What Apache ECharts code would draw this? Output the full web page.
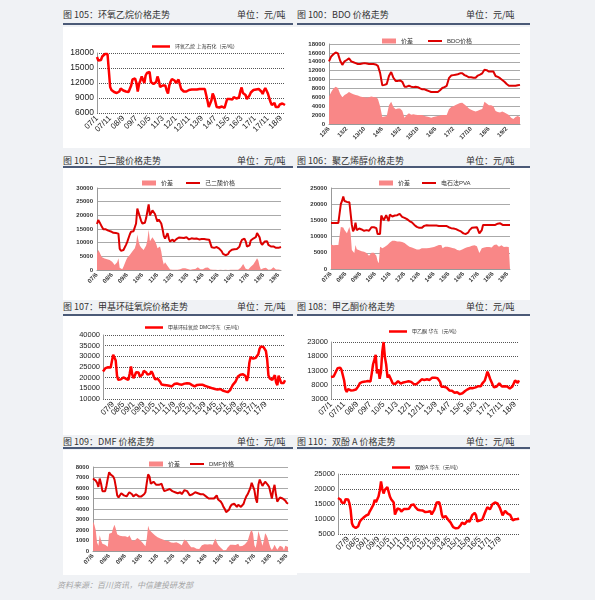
<!DOCTYPE html>
<html>
<head>
<meta charset="utf-8">
<script src="https://cdn.jsdelivr.net/npm/echarts@6/dist/echarts.min.js"></script>
<style>
  body { margin: 0; width: 595px; height: 600px; position: relative; overflow: hidden; background: #f0f2f5; font-family: "Noto Sans CJK SC", sans-serif; }
  .title { position: absolute; font-size: 9px; line-height: 12px; color: #333; white-space: nowrap; }
  .rule { position: absolute; height: 1.5px; background: #4b5a77; }
  .panel { position: absolute; background: #fff; }
  .source { position: absolute; left: 57px; top: 579px; font-size: 8px; line-height: 12px; color: #a5a5a5; font-style: italic; }
</style>
</head>
<body>

<div class="title" style="left:63px;top:9px">图 105：环氧乙烷价格走势</div>
<div class="title" style="left:237px;top:9px">单位：元/吨</div>
<div class="rule" style="left:63px;top:23px;width:230px"></div>
<div class="title" style="left:297px;top:9px">图 100：BDO 价格走势</div>
<div class="title" style="left:466px;top:9px">单位：元/吨</div>
<div class="rule" style="left:297px;top:23px;width:233px"></div>

<div class="title" style="left:63px;top:155px">图 101：己二酸价格走势</div>
<div class="title" style="left:237px;top:155px">单位：元/吨</div>
<div class="rule" style="left:63px;top:166px;width:230px"></div>
<div class="title" style="left:297px;top:155px">图 106：聚乙烯醇价格走势</div>
<div class="title" style="left:466px;top:155px">单位：元/吨</div>
<div class="rule" style="left:297px;top:166px;width:233px"></div>

<div class="title" style="left:63px;top:301px">图 107：甲基环硅氧烷价格走势</div>
<div class="title" style="left:237px;top:301px">单位：元/吨</div>
<div class="rule" style="left:63px;top:314px;width:230px"></div>
<div class="title" style="left:297px;top:301px">图 108：甲乙酮价格走势</div>
<div class="title" style="left:466px;top:301px">单位：元/吨</div>
<div class="rule" style="left:297px;top:314px;width:233px"></div>

<div class="title" style="left:63px;top:436px">图 109：DMF 价格走势</div>
<div class="title" style="left:237px;top:436px">单位：元/吨</div>
<div class="rule" style="left:63px;top:447px;width:230px"></div>
<div class="title" style="left:297px;top:436px">图 110：双酚 A 价格走势</div>
<div class="title" style="left:466px;top:436px">单位：元/吨</div>
<div class="rule" style="left:297px;top:447px;width:233px"></div>

<div class="panel" id="c1" style="left:63px;top:27px;width:234px;height:121px"></div>
<div class="panel" id="c2" style="left:297px;top:27px;width:233px;height:121px"></div>
<div class="panel" id="c3" style="left:63px;top:168px;width:234px;height:132px"></div>
<div class="panel" id="c4" style="left:297px;top:168px;width:233px;height:132px"></div>
<div class="panel" id="c5" style="left:63px;top:316px;width:234px;height:119px"></div>
<div class="panel" id="c6" style="left:297px;top:316px;width:233px;height:119px"></div>
<div class="panel" id="c7" style="left:63px;top:450px;width:234px;height:125px"></div>
<div class="panel" id="c8" style="left:297px;top:450px;width:233px;height:123px"></div>

<div class="source">资料来源：百川资讯，中信建投研发部</div>

<script>
// month labels like "07/1"
function monthLabels(y, m, n) {
    const out = []
    for (let i = 0; i < n; i++) {
        out.push(String(y % 100).padStart(2, "0") + "/" + m)
        m++
        if (m > 12) { m = 1; y++ }
    }
    return out
}

// ---- 图105 环氧乙烷 ----
const eoCats = monthLabels(2007, 1, 144)
const eoTicks = ["07/1","07/11","08/9","09/7","10/5","11/3","12/1","12/11","13/9","14/7","15/5","16/3","17/1","17/11","18/9"]
const eoPrice = [
    17200,16500,16400,16600,17300,17600,17800,17900,17800,14500,
    11200,10600,10400,10200,10600,10000,9800,10300,10900,10700,
    10500,10500,10300,10300,10200,10300,11500,12700,13000,12900,
    12000,10300,11800,12500,13300,13600,12000,13500,14000,14200,
    14200,12200,11900,11800,11900,12200,13300,12500,11200,11300,
    11500,11800,11500,10500,9900,11500,12300,12800,13000,12500,
    12000,12000,12700,12300,10800,10600,10300,10000,10300,10500,
    10600,10600,10700,10700,10700,10700,10700,10800,10800,10800,
    10800,10800,10800,10700,8500,7200,7000,8500,9900,9300,
    8300,7200,6900,7100,7200,7300,7100,7000,7300,8800,
    9100,8800,9000,8700,9200,9100,8900,8800,9100,10300,
    11100,10000,9800,9600,8800,9100,9500,10100,10300,10600,
    10700,10700,10800,10800,10600,10300,9800,10500,11000,10700,
    9900,9000,8200,7600,8000,8000,7200,6900,7200,7700,
    7900,7900,7500,7600
]

// ---- 图100 BDO ----
const bdoCats = monthLabels(2012, 6, 87)
const bdoTicks = ["12/6","13/2","13/10","14/6","15/2","15/10","16/6","17/2","17/10","18/6","19/2"]
const bdoPrice = [
    14100,15200,15700,16100,15900,14300,13300,14100,14400,14800,
    14100,13900,13700,13500,13500,13600,13700,13600,13500,13500,
    13500,13400,13100,11500,8700,8800,9000,10800,11700,10400,
    9700,9700,9800,9500,8400,8400,8600,8400,8300,8400,
    8300,8000,7800,7800,7600,7400,7200,7200,7200,7200,
    7600,8100,8300,8600,10300,10900,11000,11100,11200,11400,
    11400,11000,10800,10500,10500,10400,10400,10900,11100,11400,
    12200,12100,11800,11800,11800,10800,10600,10300,9900,9500,
    9000,8600,8600,8600,8600,8700,8800
]
const bdoSpread = [
    6200,7200,8000,8400,8100,6800,6000,6500,6800,7200,
    6900,6700,6500,6400,6200,6100,6000,5900,6000,6200,
    6100,6000,5700,4000,1600,1700,1800,4200,5000,3800,
    3300,3500,3500,3000,1400,2000,2400,2100,2200,2100,
    2000,2000,2000,1800,1700,1600,1400,1600,1700,1800,
    1900,2000,2000,2000,3300,3800,4000,4300,4500,4700,
    4800,4400,4000,3500,3200,3000,2800,3000,3200,3400,
    5000,4600,4200,4200,4000,2900,2700,2600,2800,2600,
    2300,2000,1400,1100,1600,1800,1500
]

// ---- 图101 己二酸 ----
const adaCats = monthLabels(2007, 6, 147)
const yearTicks = ["07/6","08/6","09/6","10/6","11/6","12/6","13/6","14/6","15/6","16/6","17/6","18/6","19/6"]
const adaPrice = [
    16800,18300,17500,16800,15700,14900,14700,14900,14700,14400,
    14200,14100,14100,13600,13500,13500,13500,13300,7800,7000,
    7100,7300,8000,9200,10300,11000,13000,14000,14200,14200,
    14000,17000,22500,22000,19500,18000,17000,16300,17300,19000,
    21500,24000,20000,20500,21800,21800,20500,19000,17700,18500,
    18800,17000,15000,12500,11500,11200,13500,11500,10400,10700,
    11200,10400,11000,11300,11500,11900,12000,11800,11600,11700,
    11600,12000,11800,11200,11300,11600,11800,11400,11300,11500,
    11400,11200,11500,11300,11200,11300,11200,11200,11300,11100,
    10500,8300,8200,8100,8200,8400,8000,7800,7200,6800,
    5900,5500,5400,5200,5800,6700,7300,7400,7400,7600,
    7500,7700,7900,8500,10000,11000,11700,11500,10500,8600,
    8600,9000,10800,11000,11500,10800,12000,13500,14000,12000,
    10000,9200,9500,10400,10800,10500,9200,8600,8600,9000,
    8600,8000,8100,8000,8100,8300,8400
]
const adaSpread = [
    6000,7300,6500,5500,4700,4300,4200,4000,3900,3800,
    3700,3500,3000,2400,1800,2000,2800,4300,800,200,
    300,1200,1800,3500,4500,5000,5500,6200,6800,7000,
    8000,9500,13000,10500,9000,8200,7500,7300,7800,9000,
    11000,14700,10500,11000,12000,12000,10500,9500,8000,7300,
    8600,6800,3800,2000,2800,2600,1500,800,200,100,
    100,0,100,200,100,200,300,500,600,500,
    600,500,400,200,100,200,300,200,400,700,
    1000,600,300,200,300,500,800,1200,900,400,
    200,100,100,0,100,100,0,0,100,0,
    0,0,100,100,0,0,100,0,100,200,
    100,200,100,300,800,1200,2200,1500,500,100,
    200,800,1200,1500,2000,2400,3500,4300,3500,1500,
    200,100,600,1000,800,300,100,100,200,600,
    1000,500,200,300,200,100,0
]

// ---- 图106 聚乙烯醇 ----
const pvaCats = monthLabels(2007, 6, 147)
const pvaPrice = [
    14200,14200,14200,14200,14200,14200,14200,14200,20000,21000,
    22400,21000,20800,20700,20700,20600,20600,13600,11600,12400,
    14300,12000,12300,12500,12000,12200,12000,11800,12000,12000,
    11900,11800,11700,12900,12900,12900,12900,12600,10800,10800,
    10800,16500,16400,15000,14600,16600,16600,14800,16800,16800,
    16200,15600,16500,16600,16600,16800,17000,16600,16100,16000,
    15800,15600,15400,15100,14800,14600,14400,14100,13600,13300,
    13000,12900,12700,12500,12700,13100,13300,13300,13500,13500,
    13400,13400,13400,13400,13400,13400,13400,13300,13300,13300,
    13300,13300,13300,13300,13300,13300,12900,12700,12600,12500,
    12500,12400,12300,12100,11900,11800,11600,11300,11000,10900,
    10800,10900,11300,12000,12500,12700,12800,12800,12900,12900,
    13000,11000,11000,12000,13600,13600,13600,13600,13600,13600,
    13600,13600,13600,13600,13600,13800,14000,14100,14100,13800,
    13600,13600,13600,13600,13600,13600,13600
]
const pvaSpread = [
    7600,7400,7300,7300,7400,7300,7400,7600,13000,12500,
    12800,12000,11500,11000,12000,13000,11000,5900,6400,4900,
    7400,6100,6000,5800,5700,5500,5400,5300,5100,4900,
    4600,4100,4300,5000,5400,5000,4600,4100,2500,1800,
    6900,6600,6400,6600,6900,7200,7400,7800,8200,8500,
    8700,8800,8700,8500,8500,8500,8500,8400,8300,8200,
    8000,7700,7400,7200,6900,6800,6600,6400,6300,6100,
    6000,5900,6000,6200,6400,6400,6400,6400,6400,6400,
    6500,6500,6600,6700,6800,6900,7100,7300,7400,7400,
    7400,6400,6800,6900,6900,6900,6800,6700,6600,6500,
    6400,6300,6100,5900,5800,5700,5800,6000,6100,6400,
    6600,6700,6800,6900,7000,7200,7400,7300,6900,7000,
    7200,4900,5500,6400,6500,6600,6700,6800,6900,6800,
    6700,6600,7000,7400,7500,7600,7300,6900,7000,7300,
    7100,6800,6700,6900,7200,6800,7000
]

// ---- 图107 甲基环硅氧烷 ----
const dmcCats = monthLabels(2007, 1, 144)
const eightTicks = ["07/1","07/9","08/5","09/1","09/9","10/5","11/1","11/9","12/5","13/1","13/9","14/5","15/1","15/9","16/5","17/1","17/9","18/5"]
const dmcPrice = [
    22900,23500,24500,24900,24900,24900,24700,25200,30800,31100,
    28000,21000,19000,19000,19200,19800,20100,19800,19500,19300,
    19000,22000,25200,21500,19800,21000,22500,22900,22400,20500,
    19800,21500,23200,23700,22400,21400,20600,21800,23000,22000,
    20300,19200,19000,19500,18800,18000,16800,16600,16600,16500,
    16400,16300,16200,16000,15900,16400,17000,17500,17300,17000,
    16900,16800,16700,16900,17200,17300,17400,17500,17300,16900,
    16500,16200,15900,16200,16600,16700,16700,16700,16700,16500,
    16200,16000,15800,15600,15400,15200,15000,14800,14700,14600,
    14400,14500,14700,14300,14000,13800,13600,13300,13200,13500,
    14200,15500,16600,17200,18000,19300,20500,21400,21400,21000,
    21600,22000,20800,18500,20800,27000,29700,29900,28900,28800,
    29300,29900,31000,33500,34600,34600,34400,33800,32500,28500,
    21000,19700,19200,19000,19800,21200,17800,16500,20900,20800,
    17500,17300,17500,18800
]

// ---- 图108 甲乙酮 ----
const mekCats = monthLabels(2007, 1, 144)
const mekPrice = [
    10700,10800,10900,11500,12800,13800,14200,14000,13200,12600,
    9500,6400,5500,6500,6200,6000,6300,6100,6100,6300,
    6900,7600,8600,9100,9000,9500,9100,9000,9300,9800,
    9100,12000,15200,16800,18500,12000,13500,10100,12500,19500,
    23000,17700,15000,10500,11500,11000,9500,8400,8100,8300,
    8900,9300,9500,8400,8300,8800,9300,9000,9100,9200,
    9100,9000,8600,8200,8100,8200,8400,9000,9500,9900,
    10500,9700,9600,9900,10100,9700,9700,10500,10700,10500,
    10500,10300,9900,9000,7300,7000,7300,7300,7000,6700,
    6000,5800,5900,5500,5200,5300,5400,4900,4700,4900,
    5000,4800,5800,6000,6400,6800,6900,6700,6800,7100,
    7100,7800,7500,7200,7500,8400,8900,9500,11000,12600,
    11500,10100,9500,8000,7100,7000,7400,8000,8500,9000,
    7400,7100,7500,7700,7400,7100,6700,6400,7400,7000,
    9500,9000,8700,9500
]

// ---- 图109 DMF ----
const dmfCats = monthLabels(2007, 6, 146)
const dmfPrice = [
    6900,6800,6700,6500,6100,6900,6400,5700,5800,5700,
    6200,6900,7500,7300,7300,7100,6800,6100,5300,5100,
    5100,5500,5400,5300,5200,5200,5300,5600,5700,5400,
    5200,5300,5400,5300,5200,5200,5200,5200,5400,5600,
    6500,7300,7100,6400,6400,6600,6700,6300,6200,6300,
    6400,6400,6000,5700,5800,5800,5700,5900,5800,5700,
    5700,5600,5700,5500,5600,5600,5400,5300,5800,5900,
    5700,5500,5300,5200,5400,5500,5600,5500,5500,5400,
    5400,5400,5400,5300,5200,5200,5000,4900,5000,4900,
    5000,5000,5300,4900,4900,4700,4500,4200,4000,3700,
    3700,3900,4200,4400,4500,4500,4500,4200,4400,4300,
    4200,4200,4500,4900,5200,5400,5500,6000,6500,6400,
    5800,5000,4600,6300,6800,6700,6200,6400,6600,6500,
    6300,6100,6000,5000,5800,6300,5400,4700,4900,5100,
    5100,5000,4900,4800,4600,4500
]
const dmfSpread = [
    2800,2500,2000,800,500,1500,1000,700,850,600,
    450,400,1650,1700,1750,2200,2500,2100,1600,1450,
    1450,1500,1400,1400,1400,1350,1300,1500,1400,1000,
    900,1000,1100,1250,1200,1050,950,770,600,450,
    1200,2400,2000,1850,1750,1650,1500,1400,1300,1250,
    1200,1150,1100,1000,980,980,950,860,820,780,
    780,800,830,780,720,650,540,540,1100,1100,
    900,700,540,350,350,350,300,220,100,200,
    380,540,700,650,600,620,640,640,560,600,
    900,1200,860,600,450,300,200,60,80,100,
    300,450,600,680,600,550,580,600,680,450,
    400,480,540,650,780,950,1100,1800,2000,1660,
    540,300,1000,1900,1900,1000,500,1000,1700,1500,
    1200,700,300,100,300,600,500,130,300,500,
    450,380,60,500,450,380
]

// ---- 图110 双酚A ----
const bpaCats = monthLabels(2007, 1, 144)
const bpaPrice = [
    17000,17300,16500,15500,15100,15300,16600,16900,16500,15300,
    13000,8600,7600,7300,7000,7100,7600,8900,9600,10000,
    10400,10900,11100,11100,11500,12500,13200,13500,14800,16400,
    15600,16000,17500,19500,22500,20000,18500,19700,20300,20600,
    20200,17500,16600,16400,15500,11500,12500,13500,13500,13200,
    12500,12800,13300,13500,13300,13100,13400,14000,14700,15200,
    14800,14000,13500,13100,12500,12900,13000,12800,12400,12300,
    12500,12400,12600,12600,11500,11200,13000,14200,15500,15800,
    15600,14000,11500,10400,10900,11000,10600,9800,9300,8800,
    8000,7300,7000,6900,6900,7000,7300,8000,8800,9200,
    8300,8800,9300,9500,9200,10200,11300,11700,12000,11300,
    9200,9600,9500,10000,9800,10000,12000,13000,13900,14200,
    13200,14000,14900,15300,15500,15400,15200,14800,13600,12500,
    11200,11800,12700,12300,11800,11400,11400,10800,9600,9500,
    9900,9600,10000,10200
]

const FONT = '"Liberation Sans", "Noto Sans CJK SC", sans-serif'
const plain = function (v) { return String(v) }

// single red line, dotted grid
function lineChart(id, c) {
    const myChart = echarts.init(document.getElementById(id))
    const option = {
        animation: false,
        textStyle: { fontFamily: FONT },
        legend: {
            left: c.legendLeft, top: c.legendTop,
            itemWidth: 18, itemHeight: 6,
            textStyle: { fontSize: 5, color: '#333', fontFamily: FONT },
            data: [{ name: c.name, icon: 'path://M0,0 L18,0 L18,2.5 L0,2.5 Z' }]
        },
        grid: c.grid,
        xAxis: {
            type: 'category', data: c.cats, boundaryGap: false,
            axisLine: { show: false }, axisTick: { show: false },
            axisLabel: {
                interval: function (i, v) { return c.ticks.indexOf(v) >= 0 },
                rotate: 45, fontSize: 8, color: '#222', margin: 4
            }
        },
        yAxis: {
            type: 'value', min: c.min, max: c.max, interval: c.interval,
            axisLine: { show: true, lineStyle: { color: '#999' } },
            axisTick: { show: false },
            axisLabel: { fontSize: c.yFont, color: '#222', margin: 3, formatter: plain },
            splitLine: { lineStyle: { type: 'dotted', color: '#555', width: 1 } }
        },
        series: [{
            name: c.name, type: 'line', data: c.data, symbol: 'none',
            lineStyle: { color: '#ff0000', width: 2.5 },
            itemStyle: { color: '#ff0000' }
        }]
    }
    myChart.setOption(option)
}

// spread area + price line, solid grid
function spreadChart(id, c) {
    const myChart = echarts.init(document.getElementById(id))
    const option = {
        animation: false,
        textStyle: { fontFamily: FONT },
        legend: {
            left: c.legendLeft, top: c.legendTop,
            itemWidth: 14, itemHeight: 5, itemGap: c.gap,
            textStyle: { fontSize: 6, color: '#333', fontFamily: FONT },
            data: [
                { name: '价差', icon: 'rect' },
                { name: c.name, icon: 'path://M0,0 L14,0 L14,2 L0,2 Z' }
            ]
        },
        grid: c.grid,
        xAxis: {
            type: 'category', data: c.cats, boundaryGap: false,
            axisLine: { show: true, lineStyle: { color: '#999' } },
            axisTick: { show: false },
            axisLabel: {
                interval: function (i, v) { return c.ticks.indexOf(v) >= 0 },
                rotate: 45, fontSize: 6, fontWeight: 'bold', color: '#333', margin: 4
            }
        },
        yAxis: {
            type: 'value', min: 0, max: c.max, interval: c.interval,
            axisLine: { show: true, lineStyle: { color: '#999' } },
            axisTick: { show: false },
            axisLabel: { fontSize: 6, fontWeight: 'bold', color: '#333', margin: 4, formatter: plain },
            splitLine: { lineStyle: { color: '#aaa', width: 1 } }
        },
        series: [
            {
                name: '价差', type: 'line', data: c.spread, symbol: 'none',
                lineStyle: { width: 0, color: '#f98787' },
                itemStyle: { color: '#f98787' },
                areaStyle: { color: '#f98787', opacity: 1 }
            },
            {
                name: c.name, type: 'line', data: c.price, symbol: 'none',
                lineStyle: { color: '#dd0000', width: 2 },
                itemStyle: { color: '#dd0000' }
            }
        ]
    }
    myChart.setOption(option)
}

lineChart('c1', {
    name: '环氧乙烷 上海石化（元/吨）', cats: eoCats, ticks: eoTicks, data: eoPrice,
    min: 6000, max: 18000, interval: 3000, yFont: 8.5,
    legendLeft: 84, legendTop: 12,
    grid: { left: 34, top: 26, width: 188, height: 60 }
})

spreadChart('c2', {
    name: 'BDO价格', cats: bdoCats, ticks: bdoTicks, price: bdoPrice, spread: bdoSpread,
    max: 18000, interval: 2000, legendLeft: 80, legendTop: 6, gap: 15,
    grid: { left: 32, top: 17, width: 191, height: 80 }
})

spreadChart('c3', {
    name: '己二酸价格', cats: adaCats, ticks: yearTicks, price: adaPrice, spread: adaSpread,
    max: 30000, interval: 5000, legendLeft: 74, legendTop: 7, gap: 13,
    grid: { left: 34, top: 20, width: 184, height: 82 }
})

spreadChart('c4', {
    name: '电石法PVA', cats: pvaCats, ticks: yearTicks, price: pvaPrice, spread: pvaSpread,
    max: 25000, interval: 5000, legendLeft: 77, legendTop: 7, gap: 12,
    grid: { left: 34, top: 20, width: 179, height: 81 }
})

lineChart('c5', {
    name: '甲基环硅氧烷 DMC华东（元/吨）', cats: dmcCats, ticks: eightTicks, data: dmcPrice,
    min: 10000, max: 40000, interval: 5000, yFont: 7.5,
    legendLeft: 77, legendTop: 4,
    grid: { left: 40, top: 19, width: 182, height: 64 }
})

lineChart('c6', {
    name: '甲乙酮 华东（元/吨）', cats: mekCats, ticks: eoTicks, data: mekPrice,
    min: 3000, max: 23000, interval: 5000, yFont: 7.5,
    legendLeft: 87, legendTop: 8,
    grid: { left: 34, top: 26, width: 188, height: 57 }
})

spreadChart('c7', {
    name: 'DMF价格', cats: dmfCats, ticks: yearTicks, price: dmfPrice, spread: dmfSpread,
    max: 8000, interval: 1000, legendLeft: 81, legendTop: 6, gap: 10,
    grid: { left: 30, top: 17, width: 195, height: 84 }
})

lineChart('c8', {
    name: '双酚A 华东（元/吨）', cats: bpaCats, ticks: eightTicks, data: bpaPrice,
    min: 5000, max: 25000, interval: 5000, yFont: 7.5,
    legendLeft: 90, legendTop: 10,
    grid: { left: 41, top: 24, width: 181, height: 60 }
})
</script>
</body>
</html>
